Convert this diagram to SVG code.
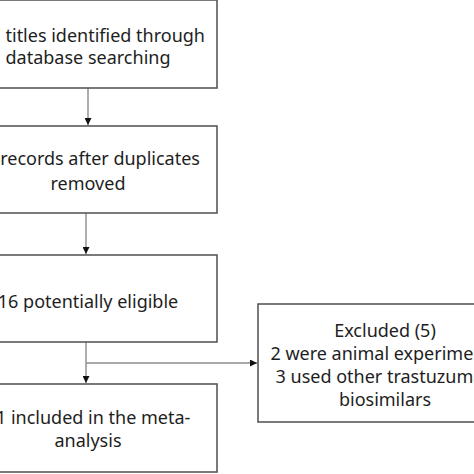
<svg xmlns="http://www.w3.org/2000/svg" width="474" height="474" viewBox="0 0 474 474">
<defs>
<style>
.box{fill:#fff;stroke:#595959;stroke-width:1.6}
.t{font-family:"Noto Sans","Liberation Sans",Arial,sans-serif;font-size:18px;fill:#1e1e1e;text-anchor:middle}
.c{stroke:#8c8c8c;stroke-width:1.4;fill:none}
</style>
<marker id="ah" viewBox="0 0 10 10" refX="10" refY="5" markerWidth="7" markerHeight="7" markerUnits="userSpaceOnUse" orient="auto">
<path d="M0,0 L10,5 L0,10 z" fill="#111"/>
</marker>
</defs>
<rect width="474" height="474" fill="#fff"/>
<g id="connectors">
<line class="c" x1="88" y1="88" x2="88" y2="125" marker-end="url(#ah)"/>
<line class="c" x1="86" y1="213" x2="86" y2="254" marker-end="url(#ah)"/>
<line class="c" x1="86" y1="342" x2="86" y2="383" marker-end="url(#ah)"/>
<line class="c" x1="86" y1="363" x2="257" y2="363" marker-end="url(#ah)"/>
</g>
<g id="n1">
<rect class="box" x="-42" y="0" width="259" height="88"/>
<text class="t" x="205" y="42" style="text-anchor:end">titles identified through</text>
<text class="t" x="88" y="64">database searching</text>
</g>
<g id="n2">
<rect class="box" x="-42" y="126" width="259" height="87"/>
<text class="t" x="200" y="165" style="text-anchor:end">records after duplicates</text>
<text class="t" x="88" y="190">removed</text>
</g>
<g id="n3">
<rect class="box" x="-42" y="255" width="259" height="87"/>
<text class="t" x="88" y="308">16 potentially eligible</text>
</g>
<g id="n4">
<rect class="box" x="-42" y="384" width="259" height="88"/>
<text class="t" x="88" y="424">11 included in the meta-</text>
<text class="t" x="88" y="447">analysis</text>
</g>
<g id="n5">
<rect class="box" x="258" y="304" width="256" height="118"/>
<text class="t" x="385" y="337">Excluded (5)</text>
<text class="t" x="385" y="360">2 were animal experiments</text>
<text class="t" x="385" y="383">3 used other trastuzumab</text>
<text class="t" x="385" y="406">biosimilars</text>
</g>
</svg>
